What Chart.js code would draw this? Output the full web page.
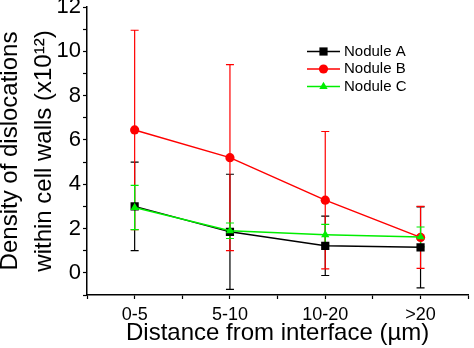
<!DOCTYPE html>
<html lang="en">
<head>
<meta charset="UTF-8">
<title>Dislocation density vs distance</title>
<style>
  body { margin: 0; background: #fff; }
  .wrap { width: 474px; height: 348px; }
</style>
</head>
<body>
<div class="wrap"><canvas id="chart"></canvas></div>
<script src="https://cdn.jsdelivr.net/npm/chart.js"></script>
<script>
// data
const categories = ["0-5", "5-10", "10-20", ">20"];
const noduleA = [3.0, 1.85, 1.22, 1.15];
const errA    = [2.0, 2.6, 1.34, 1.83];
const noduleB = [6.45, 5.2, 3.28, 1.6];
const errB    = [4.5, 4.2, 3.1, 1.4];
const noduleC = [2.95, 1.9, 1.72, 1.62];
const errC    = [1.0, 0.35, 0.47, 0.45];
const yTicks  = [0, 2, 4, 6, 8, 10, 12];

const FONT = "'Liberation Sans', Arial, sans-serif";

function pts(arr) {
  return arr.map((v, i) => ({ x: i + 1, y: v }));
}

// vertical error bars, drawn under the lines and markers
const errorBars = {
  id: "errorBars",
  beforeDatasetsDraw(chart) {
    const ctx = chart.ctx, xs = chart.scales.x, ys = chart.scales.y;
    chart.data.datasets.forEach(ds => {
      ctx.save();
      ctx.strokeStyle = ds.borderColor;
      ctx.lineWidth = 1.2;
      ds.data.forEach((p, j) => {
        const e = ds.errors[j];
        const x = xs.getPixelForValue(p.x);
        const y1 = ys.getPixelForValue(p.y - e);
        const y2 = ys.getPixelForValue(p.y + e);
        ctx.beginPath();
        ctx.moveTo(x, y1); ctx.lineTo(x, y2);
        ctx.moveTo(x - 4, y1); ctx.lineTo(x + 4, y1);
        ctx.moveTo(x - 4, y2); ctx.lineTo(x + 4, y2);
        ctx.stroke();
      });
      ctx.restore();
    });
  }
};

// legend box in the upper right of the plot
const insideLegend = {
  id: "insideLegend",
  afterDraw(chart) {
    const ctx = chart.ctx;
    const x0 = 307, x1 = 340;
    let y = 51.5;
    chart.data.datasets.forEach(ds => {
      ctx.save();
      ctx.strokeStyle = ds.borderColor;
      ctx.lineWidth = 1.5;
      ctx.beginPath();
      ctx.moveTo(x0, y); ctx.lineTo(x1, y);
      ctx.stroke();
      ctx.fillStyle = ds.pointBackgroundColor;
      Chart.helpers.drawPoint(ctx, {
        pointStyle: ds.pointStyle, radius: ds.pointRadius, rotation: 0, borderWidth: 0
      }, (x0 + x1) / 2, y);
      ctx.fillStyle = "#000";
      ctx.font = "15px " + FONT;
      ctx.textBaseline = "middle";
      ctx.fillText(ds.label, x1 + 4, y);
      ctx.restore();
      y += 17.5;
    });
  }
};

function series(label, values, errors, color, style, radius, order) {
  return {
    label: label,
    data: pts(values),
    errors: errors,
    borderColor: color,
    backgroundColor: color,
    pointBackgroundColor: color,
    pointBorderColor: color,
    pointBorderWidth: 0,
    pointStyle: style,
    pointRadius: radius,
    borderWidth: 1.5,
    tension: 0,
    order: order
  };
}

new Chart(document.getElementById("chart"), {
  type: "line",
  data: {
    datasets: [
      series("Nodule A", noduleA, errA, "#000000", "rect", 5.8, 3),
      series("Nodule B", noduleB, errB, "#ff0000", "circle", 4.6, 2),
      series("Nodule C", noduleC, errC, "#00ee00", "triangle", 4.8, 1)
    ]
  },
  options: {
    responsive: true,
    maintainAspectRatio: false,
    animation: false,
    layout: { padding: { top: 7, right: 0, left: 0, bottom: 0 } },
    plugins: { legend: { display: false }, tooltip: { enabled: false } },
    scales: {
      x: {
        type: "linear",
        min: 0.5,
        max: 4.5,
        afterFit(s) { s.height = 53; s.paddingLeft = 0; s.paddingRight = 0; },
        border: { color: "#000", width: 1.5 },
        grid: { drawOnChartArea: false, drawTicks: true, tickLength: 4, tickColor: "#000", tickWidth: 1.2 },
        ticks: {
          stepSize: 0.5,
          autoSkip: false,
          maxRotation: 0,
          padding: 5,
          color: "#000",
          font: { family: FONT, size: 18 },
          callback: v => Number.isInteger(v) ? categories[v - 1] || "" : ""
        },
        title: {
          display: true,
          text: "Distance from interface (µm)",
          color: "#000",
          font: { family: FONT, size: 24 },
          padding: { top: 0, bottom: 0 }
        }
      },
      y: {
        min: -1,
        max: 12,
        afterFit(s) { s.width = 87; s.paddingTop = 0; s.paddingBottom = 0; },
        border: { color: "#000", width: 1.5 },
        grid: { drawOnChartArea: false, drawTicks: true, tickLength: 4, tickColor: "#000", tickWidth: 1.2 },
        ticks: {
          stepSize: 1,
          autoSkip: false,
          padding: 2,
          color: "#000",
          font: { family: FONT, size: 22 },
          callback: v => yTicks.includes(v) ? String(v) : ""
        },
        title: {
          display: true,
          text: ["Density of dislocations", "within cell walls (x10\u00b9\u00b2)"],
          color: "#000",
          font: { family: FONT, size: 24, lineHeight: 1.4 },
          padding: { top: -6, bottom: 0 }
        }
      }
    }
  },
  plugins: [errorBars, insideLegend]
});
</script>
</body>
</html>
